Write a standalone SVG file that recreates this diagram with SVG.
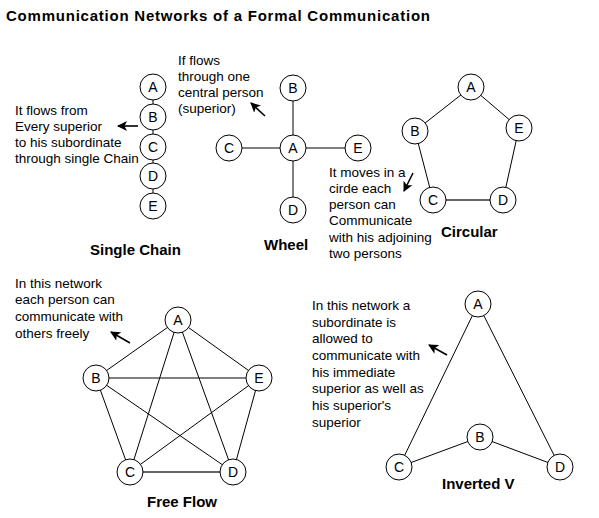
<svg xmlns="http://www.w3.org/2000/svg" width="599" height="518" viewBox="0 0 599 518">
<defs>
<marker id="ah" viewBox="0 0 10 10" refX="9" refY="5" markerWidth="10" markerHeight="10" orient="auto" markerUnits="userSpaceOnUse">
<path d="M0,0 L10,5 L0,10 L2.5,5 z" fill="#000"/>
</marker>
<style>
.t{font-family:"Liberation Sans",Arial,sans-serif;font-size:13.5px;fill:#000}
.h{font-family:"Liberation Sans",Arial,sans-serif;font-size:15px;font-weight:bold;fill:#000}
.n circle{fill:#fff;stroke:#000;stroke-width:1}
.n text{font-family:"Liberation Sans",Arial,sans-serif;font-size:14px;text-anchor:middle;fill:#000}
.c line{stroke:#000;stroke-width:1}
.c .g{stroke:#666;stroke-width:2}
.a{stroke:#000;stroke-width:1.6;marker-end:url(#ah)}
</style>
</defs>
<rect width="599" height="518" fill="#fff"/>
<text class="h" x="6" y="21" textLength="424">Communication Networks of a Formal Communication</text>

<!-- Single chain -->
<g class="c" id="chain-connectors">
<line x1="153" y1="87" x2="153" y2="206"/>
</g>
<g class="n" id="chain-A"><circle cx="153" cy="87" r="13"/><text x="153" y="92">A</text></g>
<g class="n" id="chain-B"><circle cx="153" cy="117" r="13"/><text x="153" y="122">B</text></g>
<g class="n" id="chain-C"><circle cx="153" cy="147" r="13"/><text x="153" y="152">C</text></g>
<g class="n" id="chain-D"><circle cx="153" cy="176" r="13"/><text x="153" y="181">D</text></g>
<g class="n" id="chain-E"><circle cx="153" cy="206" r="13"/><text x="153" y="211">E</text></g>
<g id="chain-note">
<text class="t" x="15" y="115">It flows from</text>
<text class="t" x="15" y="131">Every superior</text>
<text class="t" x="15" y="147">to his subordinate</text>
<text class="t" x="15" y="163">through single Chain</text>
<line class="a" x1="138" y1="126" x2="118" y2="126"/>
</g>
<text class="h" x="90" y="255">Single Chain</text>

<!-- Wheel -->
<g class="c" id="wheel-connectors">
<line x1="293" y1="88" x2="293" y2="210"/>
<line x1="229" y1="148" x2="358" y2="148"/>
</g>
<g class="n" id="wheel-A"><circle cx="293" cy="148" r="13"/><text x="293" y="153">A</text></g>
<g class="n" id="wheel-B"><circle cx="293" cy="88" r="13"/><text x="293" y="93">B</text></g>
<g class="n" id="wheel-C"><circle cx="229" cy="148" r="13"/><text x="229" y="153">C</text></g>
<g class="n" id="wheel-E"><circle cx="358" cy="148" r="13"/><text x="358" y="153">E</text></g>
<g class="n" id="wheel-D"><circle cx="293" cy="210" r="13"/><text x="293" y="215">D</text></g>
<g id="wheel-note">
<text class="t" x="178" y="65">If flows</text>
<text class="t" x="178" y="81">through one</text>
<text class="t" x="178" y="97">central person</text>
<text class="t" x="178" y="113">(superior)</text>
<line class="a" x1="265" y1="116" x2="251" y2="103"/>
</g>
<text class="h" x="264" y="250">Wheel</text>

<!-- Circular -->
<g class="c" id="circ-connectors">
<line x1="471" y1="87" x2="415" y2="131"/>
<line x1="471" y1="87" x2="519" y2="128"/>
<line x1="415" y1="131" x2="433" y2="200"/>
<line x1="519" y1="128" x2="503" y2="200"/>
<line class="g" x1="433" y1="200" x2="503" y2="200"/>
</g>
<g class="n" id="circ-A"><circle cx="471" cy="87" r="13"/><text x="471" y="92">A</text></g>
<g class="n" id="circ-B"><circle cx="415" cy="131" r="13"/><text x="415" y="136">B</text></g>
<g class="n" id="circ-E"><circle cx="519" cy="128" r="13"/><text x="519" y="133">E</text></g>
<g class="n" id="circ-C"><circle cx="433" cy="200" r="13"/><text x="433" y="205">C</text></g>
<g class="n" id="circ-D"><circle cx="503" cy="200" r="13"/><text x="503" y="205">D</text></g>
<g id="circ-note">
<text class="t" x="329" y="177">It moves in a</text>
<text class="t" x="329" y="193">cirde each</text>
<text class="t" x="329" y="209">person can</text>
<text class="t" x="329" y="225">Communicate</text>
<text class="t" x="329" y="242">with his adjoining</text>
<text class="t" x="329" y="258">two persons</text>
<line class="a" x1="413" y1="173" x2="404" y2="191"/>
</g>
<text class="h" x="441" y="237">Circular</text>

<!-- Free flow -->
<g class="c" id="free-connectors">
<line x1="178" y1="320" x2="96" y2="378"/>
<line x1="178" y1="320" x2="259" y2="378"/>
<line x1="178" y1="320" x2="130" y2="472"/>
<line x1="178" y1="320" x2="233" y2="472"/>
<line x1="96" y1="378" x2="259" y2="378"/>
<line x1="96" y1="378" x2="130" y2="472"/>
<line x1="96" y1="378" x2="233" y2="472"/>
<line x1="259" y1="378" x2="130" y2="472"/>
<line x1="259" y1="378" x2="233" y2="472"/>
<line class="g" x1="130" y1="472" x2="233" y2="472"/>
</g>
<g class="n" id="free-A"><circle cx="178" cy="320" r="13"/><text x="178" y="325">A</text></g>
<g class="n" id="free-B"><circle cx="96" cy="378" r="13"/><text x="96" y="383">B</text></g>
<g class="n" id="free-E"><circle cx="259" cy="378" r="13"/><text x="259" y="383">E</text></g>
<g class="n" id="free-C"><circle cx="130" cy="472" r="13"/><text x="130" y="477">C</text></g>
<g class="n" id="free-D"><circle cx="233" cy="472" r="13"/><text x="233" y="477">D</text></g>
<g id="free-note">
<text class="t" x="15" y="288">In this network</text>
<text class="t" x="15" y="304">each person can</text>
<text class="t" x="15" y="321">communicate with</text>
<text class="t" x="15" y="338">others freely</text>
<line class="a" x1="130" y1="343" x2="111" y2="332"/>
</g>
<text class="h" x="147" y="507">Free Flow</text>

<!-- Inverted V -->
<g class="c" id="inv-connectors">
<line x1="478" y1="304" x2="399" y2="467"/>
<line x1="478" y1="304" x2="560" y2="467"/>
<line x1="399" y1="467" x2="480" y2="437"/>
<line x1="480" y1="437" x2="560" y2="467"/>
</g>
<g class="n" id="inv-A"><circle cx="478" cy="304" r="13"/><text x="478" y="309">A</text></g>
<g class="n" id="inv-B"><circle cx="480" cy="437" r="13"/><text x="480" y="442">B</text></g>
<g class="n" id="inv-C"><circle cx="399" cy="467" r="13"/><text x="399" y="472">C</text></g>
<g class="n" id="inv-D"><circle cx="560" cy="467" r="13"/><text x="560" y="472">D</text></g>
<g id="inv-note">
<text class="t" x="312" y="310">In this network a</text>
<text class="t" x="312" y="327">subordinate is</text>
<text class="t" x="312" y="343">allowed to</text>
<text class="t" x="312" y="360">communicate with</text>
<text class="t" x="312" y="377">his immediate</text>
<text class="t" x="312" y="393">superior as well as</text>
<text class="t" x="312" y="410">his superior's</text>
<text class="t" x="312" y="427">superior</text>
<line class="a" x1="447" y1="355" x2="429" y2="345"/>
</g>
<text class="h" x="442" y="489">Inverted V</text>
</svg>
